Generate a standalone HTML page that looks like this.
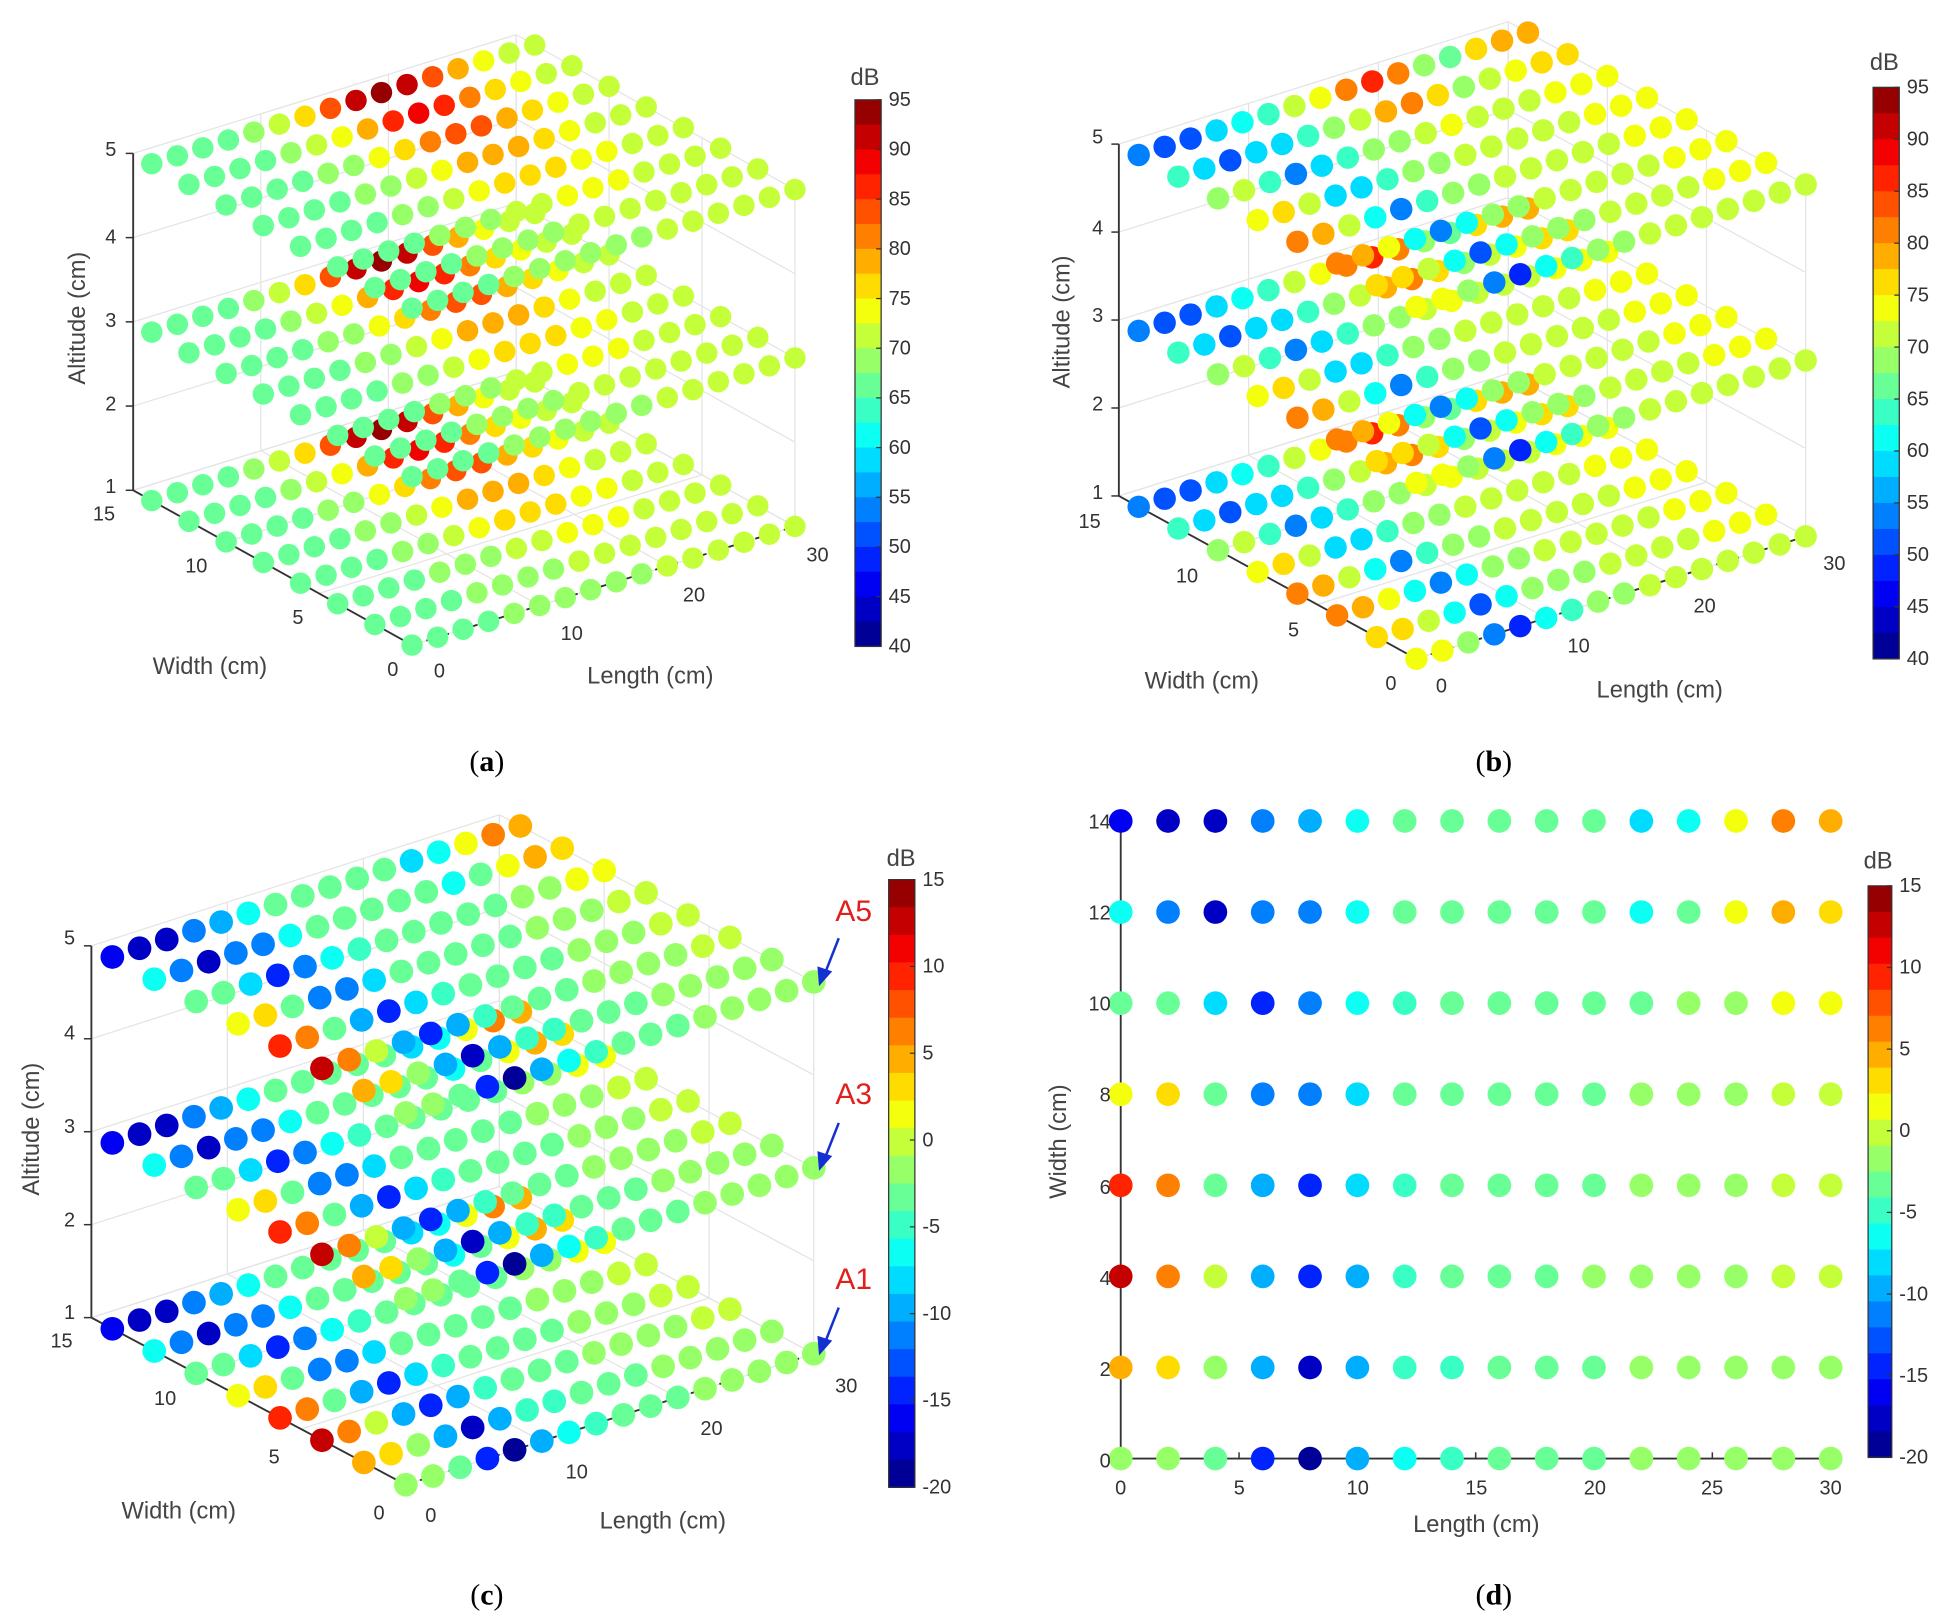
<!DOCTYPE html>
<html><head><meta charset="utf-8"><style>
html,body{margin:0;padding:0;background:#fff;}
svg{display:block;}
text{font-family:"Liberation Sans",sans-serif;fill:#333;}
.t{font-size:16px;}
.al{font-size:19px;fill:#444;}
.cap{font-family:"Liberation Serif",serif;font-size:24px;fill:#000;}
</style></head><body>
<svg id="s" width="1947" height="1622" viewBox="0 0 1560 1300" xmlns="http://www.w3.org/2000/svg">
<g id="grid"></g>
<g id="dots"></g>
<g id="cb"></g>
<!-- panel a -->
<g class="t" text-anchor="end">
<text x="93" y="125">5</text><text x="93" y="195">4</text><text x="93" y="262">3</text><text x="93" y="329">2</text><text x="93" y="395">1</text>
<text x="92" y="417">15</text><text x="166" y="459">10</text><text x="243" y="500">5</text><text x="319" y="542">0</text>
</g>
<g class="t" text-anchor="middle">
<text x="352" y="543">0</text><text x="458" y="513">10</text><text x="556" y="482">20</text><text x="655" y="450">30</text>
</g>
<text class="al" transform="translate(68,255) rotate(-90)" text-anchor="middle">Altitude (cm)</text>
<text class="al" x="168" y="540" text-anchor="middle">Width (cm)</text>
<text class="al" x="521" y="548" text-anchor="middle">Length (cm)</text>
<text class="al" x="693" y="68" text-anchor="middle">dB</text>
<text class="cap" x="390" y="618" text-anchor="middle">(<tspan font-weight="bold">a</tspan>)</text>
<!-- panel b -->
<g class="t" text-anchor="end">
<text x="884" y="115">5</text><text x="884" y="188">4</text><text x="884" y="258">3</text><text x="884" y="329">2</text><text x="884" y="400">1</text>
<text x="882" y="423">15</text><text x="960" y="467">10</text><text x="1041" y="510">5</text><text x="1119" y="553">0</text>
</g>
<g class="t" text-anchor="middle">
<text x="1155" y="555">0</text><text x="1265" y="523">10</text><text x="1366" y="491">20</text><text x="1470" y="457">30</text>
</g>
<text class="al" transform="translate(857,258) rotate(-90)" text-anchor="middle">Altitude (cm)</text>
<text class="al" x="963" y="552" text-anchor="middle">Width (cm)</text>
<text class="al" x="1330" y="559" text-anchor="middle">Length (cm)</text>
<text class="al" x="1510" y="56" text-anchor="middle">dB</text>
<text class="cap" x="1197" y="618" text-anchor="middle">(<tspan font-weight="bold">b</tspan>)</text>
<!-- panel c -->
<g class="t" text-anchor="end">
<text x="60" y="757">5</text><text x="60" y="833">4</text><text x="60" y="908">3</text><text x="60" y="983">2</text><text x="60" y="1057">1</text>
<text x="58" y="1080">15</text><text x="141" y="1126">10</text><text x="224" y="1173">5</text><text x="308" y="1218">0</text>
</g>
<g class="t" text-anchor="middle">
<text x="345" y="1220">0</text><text x="462" y="1185">10</text><text x="570" y="1150">20</text><text x="678" y="1116">30</text>
</g>
<text class="al" transform="translate(31,905) rotate(-90)" text-anchor="middle">Altitude (cm)</text>
<text class="al" x="143" y="1217" text-anchor="middle">Width (cm)</text>
<text class="al" x="531" y="1225" text-anchor="middle">Length (cm)</text>
<text class="al" x="722" y="694" text-anchor="middle">dB</text>
<text x="684" y="738" text-anchor="middle" style="font-size:24px;fill:#e0201c">A5</text>
<text x="684" y="885" text-anchor="middle" style="font-size:24px;fill:#e0201c">A3</text>
<text x="684" y="1033" text-anchor="middle" style="font-size:24px;fill:#e0201c">A1</text>
<g stroke="#1530d0" stroke-width="2" fill="#1530d0">
<line x1="672" y1="752" x2="661" y2="780"/><polygon points="657,788 656,776 665,779"/>
<line x1="672" y1="900" x2="661" y2="928"/><polygon points="657,936 656,924 665,927"/>
<line x1="672" y1="1048" x2="661" y2="1076"/><polygon points="657,1084 656,1072 665,1075"/>
</g>
<text class="cap" x="390" y="1286" text-anchor="middle">(<tspan font-weight="bold">c</tspan>)</text>
<!-- panel d -->
<g class="t" text-anchor="end">
<text x="890" y="664">14</text><text x="890" y="737">12</text><text x="890" y="810">10</text><text x="890" y="883">8</text><text x="890" y="957">6</text><text x="890" y="1030">4</text><text x="890" y="1103">2</text><text x="890" y="1176">0</text>
</g>
<g class="t" text-anchor="middle">
<text x="898" y="1198">0</text><text x="993" y="1198">5</text><text x="1088" y="1198">10</text><text x="1183" y="1198">15</text><text x="1278" y="1198">20</text><text x="1372" y="1198">25</text><text x="1467" y="1198">30</text>
</g>
<text class="al" transform="translate(854,915) rotate(-90)" text-anchor="middle">Width (cm)</text>
<text class="al" x="1183" y="1228" text-anchor="middle">Length (cm)</text>
<text class="al" x="1505" y="696" text-anchor="middle">dB</text>
<text class="cap" x="1197" y="1286" text-anchor="middle">(<tspan font-weight="bold">d</tspan>)</text>
<g id="cbl" class="t"></g>
</svg>
<script>
var NS="http://www.w3.org/2000/svg";
function el(p,tag,a){var e=document.createElementNS(NS,tag);for(var k in a)e.setAttribute(k,a[k]);p.appendChild(e);return e;}
function cl(x){return Math.max(0,Math.min(1,x));}
function jet(t){t=cl(t);var n=22;t=(Math.min(n-1,Math.floor(t*n))+0.5)/n;
var r=cl(1.5-Math.abs(4*t-3)),g=cl(1.5-Math.abs(4*t-2)),b=cl(1.5-Math.abs(4*t-1));
return "rgb("+Math.round(r*255)+","+Math.round(g*255)+","+Math.round(b*255)+")";}
var D={14:[-16,-17,-17,-11,-10,-7,-3,-4,-3,-3,-4,-8,-6,2,6,5],
12:[-7,-11,-17,-11,-12,-7,-4,-4,-3,-3,-4,-6,-3,1,4,3],
10:[-4,-3,-8,-15,-11,-7,-5,-4,-3,-3,-3,-3,-2,-1,1,1],
8:[1,3,-3,-11,-12,-8,-4,-4,-3,-3,-3,-2,-2,-1,0,0],
6:[10,6,-3,-9,-15,-8,-5,-4,-3,-3,-3,-2,-2,-1,0,0],
4:[12,6,0,-9,-15,-10,-5,-4,-3,-3,-2,-2,-2,-1,0,0],
2:[5,3,-2,-9,-17,-10,-5,-5,-4,-3,-3,-2,-2,-1,-1,-1],
0:[-1,-1,-4,-15,-19,-10,-7,-5,-4,-3,-3,-2,-2,-2,-2,-2]};
function d(L,W){return D[W][L/2];}
var grid=document.getElementById("grid"),dots=document.getElementById("dots"),cb=document.getElementById("cb"),cbl=document.getElementById("cbl");
var panels=[
{O:[330,517],eL:[10.23,-3.17],eW:[-14.9,-8.27],eZ:[0,-67.5],r:8.6,vmin:40,vmax:95,
 f:function(L,W,z){return 66+0.2*L+24*Math.exp(-(L-18)*(L-18)/30)*Math.pow(W/14,1.5);}},
{O:[1135,528],eL:[10.4,-3.27],eW:[-15.9,-8.7],eZ:[0,-70.5],r:9,vmin:40,vmax:95,
 f:function(L,W,z){var v=d(L,W);return 74+(v<0?1.3*v:0.7*v)+16*Math.exp(-((L-18)*(L-18)/12+(W-14)*(W-14)/10));}},
{O:[325,1190],eL:[10.9,-3.5],eW:[-16.8,-8.93],eZ:[0,-74.5],r:9.5,vmin:-20,vmax:15,
 f:function(L,W,z){return d(L,W);}}];
panels.forEach(function(p){
 function P(L,W,z){return [p.O[0]+L*p.eL[0]+W*p.eW[0]+(z-1)*p.eZ[0],p.O[1]+L*p.eL[1]+W*p.eW[1]+(z-1)*p.eZ[1]];}
 function ln(a,b,st,w,da){var o={x1:a[0],y1:a[1],x2:b[0],y2:b[1],stroke:st,"stroke-width":w};if(da)o["stroke-dasharray"]=da;el(grid,"line",o);}
 var g="#e4e4e4";
 for(var z=1;z<=5;z++){ln(P(0,15,z),P(30,15,z),g,1);ln(P(30,15,z),P(30,0,z),g,1);}
 [0,10,20,30].forEach(function(L){ln(P(L,15,1),P(L,15,5),g,1);ln(P(L,15,1),P(L,0,1),g,1);});
 [0,5,10,15].forEach(function(W){ln(P(30,W,1),P(30,W,5),g,1);ln(P(0,W,1),P(30,W,1),g,1);});
 ln(P(0,15,1),P(0,15,5),"#333",1.5);
 ln(P(0,0,1),P(0,15,1),"#333",1.5);
 ln(P(0,0,1),P(30,0,1),"#333",1.5,"7,5");
 for(var z=1;z<=5;z++){var a=P(0,15,z);ln(a,[a[0]-6,a[1]],"#333",1.2);}
 [1,3,5].forEach(function(z){
  for(var W=14;W>=0;W-=2)for(var L=30;L>=0;L-=2){
   var q=P(L,W,z),v=p.f(L,W,z);
   el(dots,"circle",{cx:q[0].toFixed(1),cy:q[1].toFixed(1),r:p.r,fill:jet((v-p.vmin)/(p.vmax-p.vmin))});
  }});
});
el(grid,"line",{x1:898,y1:658,x2:898,y2:1169,stroke:"#333","stroke-width":1.5});
el(grid,"line",{x1:898,y1:1169,x2:1467,y2:1169,stroke:"#333","stroke-width":1.5});
for(var i=0;i<=6;i++){var x=898+i*569/6;el(grid,"line",{x1:x,y1:1169,x2:x,y2:1164,stroke:"#333","stroke-width":1.2});}
for(var W=14;W>=0;W-=2)for(var L=0;L<=30;L+=2){
 el(dots,"circle",{cx:898+L*569/30,cy:1169-W*511/14,r:9.5,fill:jet((d(L,W)+20)/35)});}
var cbs=[{x:685,y0:80,y1:518,w:21,lab:[95,90,85,80,75,70,65,60,55,50,45,40]},
{x:1501,y0:70,y1:528,w:21,lab:[95,90,85,80,75,70,65,60,55,50,45,40]},
{x:712,y0:705,y1:1192,w:21,lab:[15,10,5,0,-5,-10,-15,-20]},
{x:1497,y0:710,y1:1168,w:19,lab:[15,10,5,0,-5,-10,-15,-20]}];
cbs.forEach(function(c){var n=22,h=(c.y1-c.y0)/n;
 for(var i=0;i<n;i++)el(cb,"rect",{x:c.x,y:c.y0+i*h,width:c.w,height:h+0.6,fill:jet(1-(i+0.5)/n)});
 el(cb,"rect",{x:c.x,y:c.y0,width:c.w,height:c.y1-c.y0,fill:"none",stroke:"#333","stroke-width":1});
 var m=c.lab.length;
 c.lab.forEach(function(v,j){var y=c.y0+j*(c.y1-c.y0)/(m-1);
  el(cb,"line",{x1:c.x+c.w-4,y1:y,x2:c.x+c.w,y2:y,stroke:"#333","stroke-width":1});
  var t=el(cbl,"text",{x:c.x+c.w+6,y:y+5});t.textContent=v;});
});
</script>
</body></html>
